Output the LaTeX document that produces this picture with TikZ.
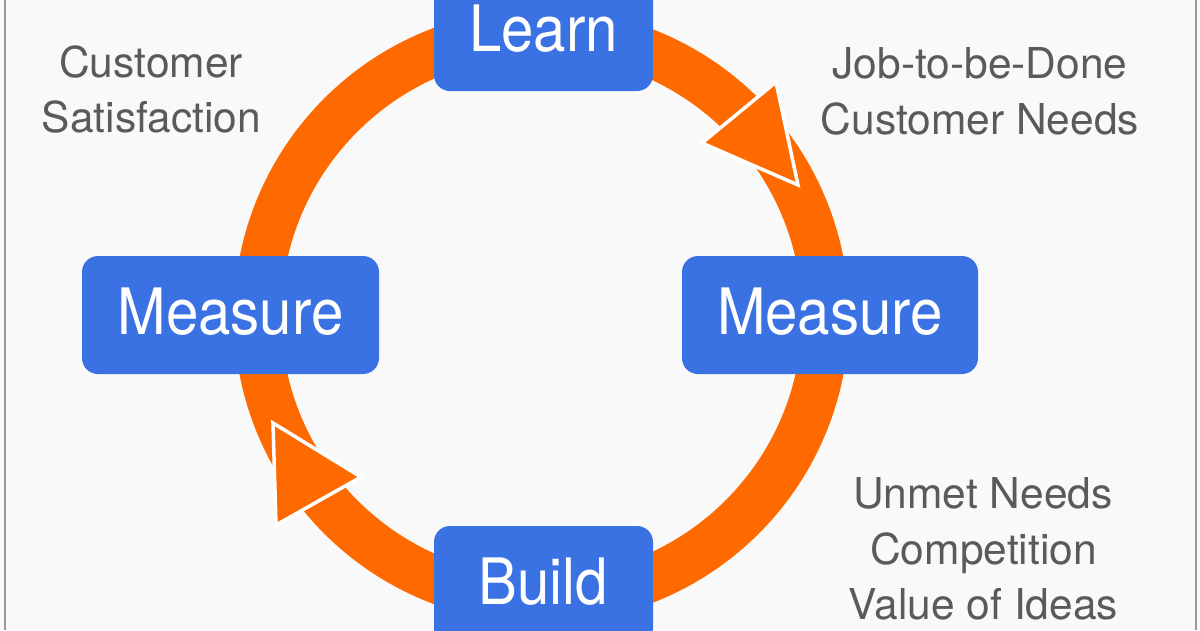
\documentclass[tikz,border=0pt]{standalone}
\usepackage{fontspec}
\newfontfamily\lightfont{TeX Gyre Heros}
\newfontfamily\boxfont{TeX Gyre Heros}[FakeStretch=0.91]
\definecolor{bgc}{HTML}{F9F9F9}
\definecolor{ringc}{HTML}{FF6A00}
\definecolor{boxc}{HTML}{3A72E4}
\definecolor{txtc}{HTML}{5A5A5A}
\definecolor{edgec}{HTML}{9A9A9A}
\tikzset{
  stepbox/.style={fill=boxc, rounded corners=16pt, text=white, inner sep=0pt,
    font=\boxfont\fontsize{64}{64}\selectfont, text height=46pt, text depth=8pt},
  note/.style={text=txtc, inner sep=0pt, anchor=base, font=\lightfont\fontsize{42.5}{42.5}\selectfont},
  headc/.style={fill=ringc, draw=white, line width=3.5pt, line join=miter}
}
\begin{document}
\begin{tikzpicture}[x=1pt,y=-1pt]
\useasboundingbox (0,0) rectangle (1200,630);
\fill[bgc] (0,0) rectangle (1200,630);
\draw[edgec, line width=2pt] (5,0) -- (5,630);
\draw[edgec, line width=2pt] (1196,0) -- (1196,630);
\coordinate (c) at (541.5,316);
\draw[ringc, line width=47pt] (c) circle[radius=284];
\filldraw[headc] (776,82) -- (702,143) -- (798,185) -- cycle;
\filldraw[headc] (273,423) -- (361,477) -- (276,525) -- cycle;
\node[stepbox, minimum width=219pt, minimum height=118pt] (learn) at (543.5,32) {Learn};
\node[stepbox, minimum width=219pt, minimum height=118pt] (build) at (543.5,585) {Build};
\node[stepbox, minimum width=297pt, minimum height=118pt] (mleft) at (230.5,315) {Measure};
\node[stepbox, minimum width=296pt, minimum height=118pt] (mright) at (830,315) {Measure};
\node[note] (cs1) at (151,77) {Customer};
\node[note] (cs2) at (151.5,132) {Satisfaction};
\node[note] (jd1) at (980,78) {Job-to-be-Done};
\node[note] (jd2) at (980,134) {Customer Needs};
\node[note] (un1) at (983,508) {Unmet Needs};
\node[note] (un2) at (983.5,564) {Competition};
\node[note] (un3) at (983.5,619) {Value of Ideas};
\end{tikzpicture}
\end{document}
